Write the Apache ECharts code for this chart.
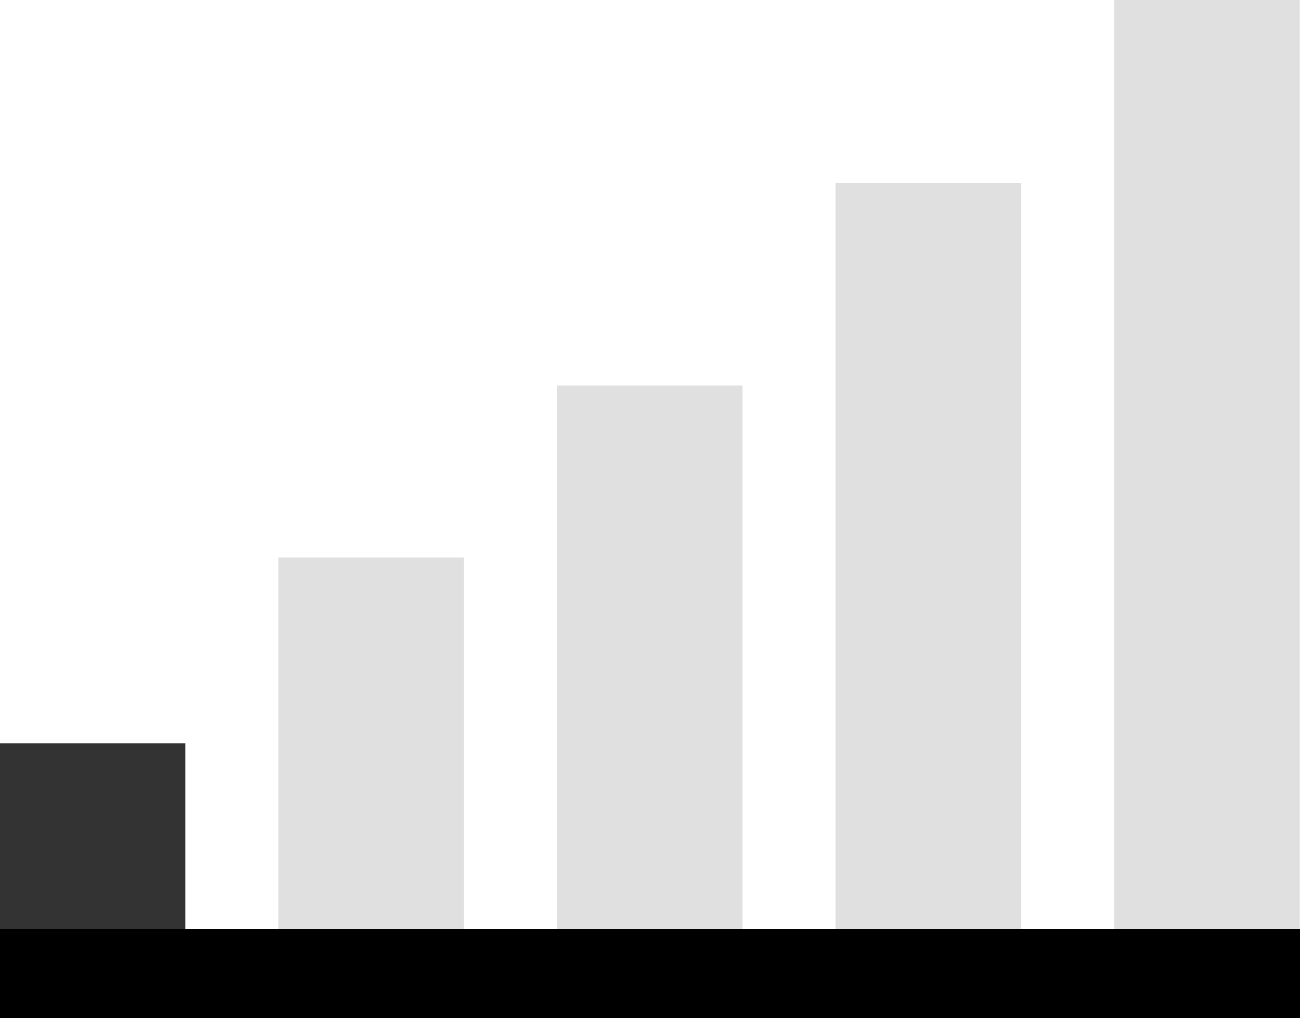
<!DOCTYPE html>
<html>
<head>
<meta charset="utf-8">
<style>
  html, body { margin: 0; padding: 0; background: #ffffff; }
  #chart { width: 1300px; height: 1018px; }
</style>
<script src="https://cdn.jsdelivr.net/npm/echarts@6/dist/echarts.min.js"></script>
</head>
<body>
<div id="chart"></div>
<script>
const categories = [0, 1, 2, 3, 4];
const values = [20, 40, 58.5, 80.3, 100];
const barColors = ['#333333', '#e0e0e0', '#e0e0e0', '#e0e0e0', '#e0e0e0'];

const chart = echarts.init(document.getElementById('chart'));
chart.setOption({
  animation: false,
  backgroundColor: '#ffffff',
  grid: { left: 0, right: 0, top: 0, bottom: 89, containLabel: false },
  xAxis: {
    type: 'value',
    min: -0.332,
    max: 4.334,
    show: false,
    splitLine: { show: false }
  },
  yAxis: {
    type: 'value',
    min: 0,
    max: 100,
    show: false,
    splitLine: { show: false }
  },
  series: [{
    type: 'bar',
    barWidth: 185.6,
    data: values.map((v, i) => ({ value: [categories[i], v], itemStyle: { color: barColors[i] } })),
    silent: true
  }],
  graphic: [{
    type: 'rect',
    left: 0,
    bottom: 0,
    shape: { width: 1300, height: 89 },
    style: { fill: '#000000' }
  }]
});
</script>
</body>
</html>
